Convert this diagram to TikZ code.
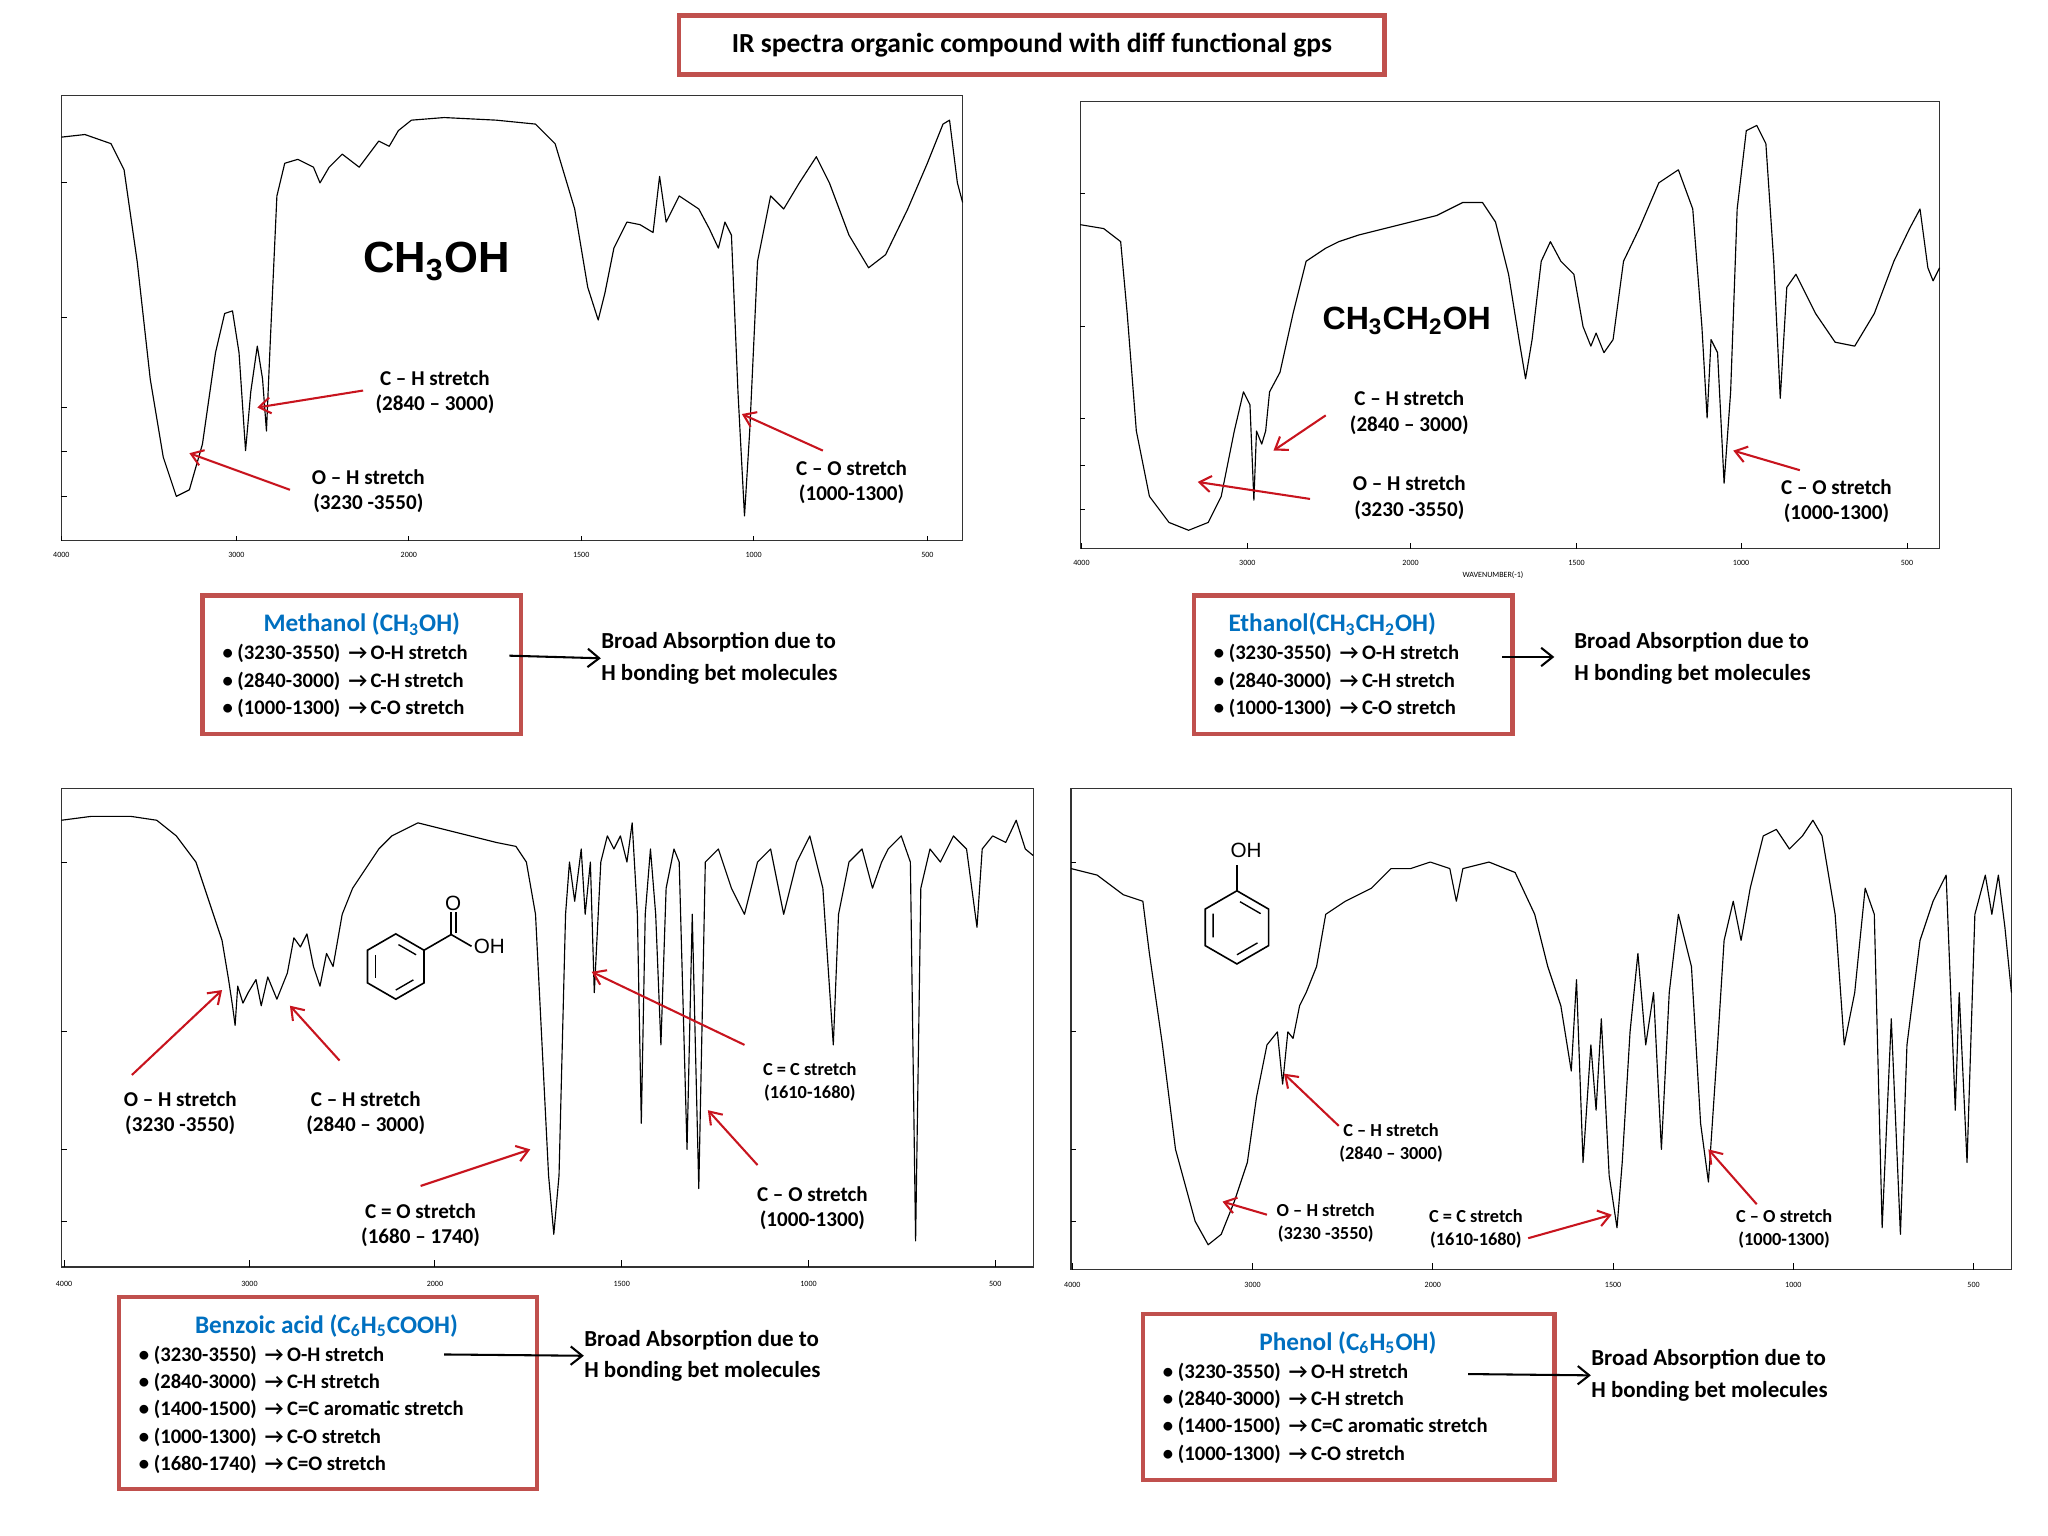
\documentclass[tikz,border=0pt]{standalone}
\usepackage{fontspec}
\setmainfont{Carlito}
\newfontfamily\arialf{Liberation Sans}
\usetikzlibrary{arrows.meta,calc}
\definecolor{bred}{RGB}{192,80,77}
\definecolor{ared}{RGB}{200,20,30}
\definecolor{tblue}{RGB}{0,112,192}
\newcommand{\sbs}[1]{\textsubscript{#1}}
\newcommand{\rar}{\,\textrightarrow\,}
\tikzset{
 frame/.style={draw=black!80,line width=0.5pt},
 spec/.style={draw=black,line width=0.5pt,line join=round},
 rbox/.style={draw=bred,line width=2pt},
 ann/.style={font=\fontsize{9.2}{11}\selectfont\bfseries,align=center,inner sep=0pt},
 anns/.style={font=\fontsize{8}{10}\selectfont\bfseries,align=center,inner sep=0pt},
 rarr/.style={draw=ared,line width=0.9pt,-{Straight Barb[length=5pt,width=7pt]}},
 barr/.style={draw=black,line width=0.9pt,-{Straight Barb[length=5pt,width=8pt]}},
 lst/.style={font=\fontsize{9}{11.9}\selectfont\bfseries,align=left,anchor=north west,inner sep=0pt},
 btxt/.style={font=\fontsize{10}{13.6}\selectfont\bfseries,align=left,anchor=west,inner sep=0pt},
 ttl/.style={font=\fontsize{11}{12}\selectfont\bfseries,text=tblue,inner sep=0pt},
 axl/.style={font=\fontsize{3.5}{4}\selectfont,inner sep=0pt},
}
\begin{document}
\begin{tikzpicture}[x=0.02cm,y=-0.02cm]
\useasboundingbox[fill=white] (0,0) rectangle (1568,1176);
\node[rbox,minimum width=540*0.02cm,minimum height=45*0.02cm,font=\fontsize{12}{13}\selectfont\bfseries] (title) at (790,34.5) {IR spectra organic compound with diff functional gps};
\draw[frame] (47,73) rectangle (737,414);
\draw[frame] (827,78) rectangle (1485,420);
\draw[frame] (47,604) rectangle (791,970);
\draw[frame] (820,604) rectangle (1540,972);
\foreach \x/\l in {47/4000,181/3000,313/2000,445/1500,577/1000,710/500}{\draw (\x,414)--(\x,410); \node[axl] at (\x,425){\l};}
\foreach \y in {140,243,312,346,380}{\draw (47,\y)--(51,\y);}
\foreach \x/\l in {828/4000,955/3000,1080/2000,1207/1500,1333/1000,1460/500}{\draw (\x,420)--(\x,416); \node[axl] at (\x,431){\l};}
\node[axl] at (1143,440){WAVENUMBER(-1)};
\foreach \y in {148,250,320,356,390}{\draw (827,\y)--(831,\y);}
\foreach \x/\l in {49/4000,191/3000,333/2000,476/1500,619/1000,762/500}{\draw (\x,970)--(\x,965); \node[axl] at (\x,983){\l};}
\foreach \y in {660,790,880,935}{\draw (47,\y)--(51,\y);}
\foreach \x/\l in {821/4000,959/3000,1097/2000,1235/1500,1373/1000,1511/500}{\draw (\x,972)--(\x,967); \node[axl] at (\x,984){\l};}
\foreach \y in {660,790,880,935}{\draw (820,\y)--(824,\y);}
\draw[spec] plot coordinates {(47,105)(65,103)(85,110)(95,130)(105,200)(115,290)(125,350)(135,380)(145,375)(155,340)(165,270)(172,240)(178,238)(183,270)(188,345)(192,300)(197,265)(201,290)(204,330)(207,260)(212,150)(218,125)(228,122)(240,128)(245,140)(252,128)(262,118)(275,128)(290,108)(298,112)(305,100)(315,92)(340,90)(380,92)(410,95)(425,110)(440,160)(450,220)(458,245)(463,225)(470,190)(480,170)(490,172)(500,178)(505,135)(510,170)(520,150)(535,160)(543,175)(550,190)(555,170)(560,180)(565,300)(570,395)(574,330)(580,200)(590,150)(600,160)(612,140)(625,120)(635,140)(650,180)(665,205)(678,195)(695,160)(710,125)(722,95)(727,92)(733,140)(737,155)};
\draw[spec] plot coordinates {(827,172)(845,175)(858,185)(863,240)(870,330)(880,380)(895,400)(910,406)(925,400)(935,380)(945,330)(952,300)(957,310)(960,383)(962,330)(966,340)(969,330)(972,300)(980,285)(990,240)(1000,200)(1015,190)(1025,185)(1040,180)(1060,175)(1080,170)(1100,165)(1120,155)(1135,155)(1145,170)(1155,210)(1163,260)(1168,290)(1173,260)(1180,200)(1187,185)(1195,200)(1205,210)(1212,250)(1218,265)(1222,255)(1228,270)(1235,260)(1243,200)(1255,175)(1270,140)(1285,130)(1296,160)(1303,250)(1307,320)(1310,260)(1315,270)(1320,370)(1325,300)(1330,160)(1337,100)(1345,96)(1352,110)(1358,200)(1363,305)(1368,220)(1375,210)(1390,240)(1405,262)(1420,265)(1435,240)(1450,200)(1462,175)(1470,160)(1476,205)(1480,215)(1485,205)};
\draw[spec] plot coordinates {(47,628)(70,625)(100,625)(120,628)(135,640)(150,660)(160,690)(170,720)(175,750)(178,770)(180,785)(182,755)(186,768)(190,760)(196,750)(200,770)(205,748)(212,765)(220,745)(225,718)(230,725)(235,715)(240,740)(245,755)(250,730)(255,740)(262,700)(270,680)(280,665)(290,650)(300,640)(310,635)(320,630)(340,635)(360,640)(380,645)(395,648)(403,660)(410,700)(415,800)(420,900)(424,945)(428,900)(433,700)(436,660)(440,690)(445,650)(448,700)(452,660)(455,760)(460,660)(465,640)(470,650)(475,640)(480,660)(484,630)(488,700)(491,860)(494,700)(498,650)(502,700)(506,800)(510,680)(516,650)(520,660)(526,880)(530,700)(535,910)(540,660)(550,650)(560,680)(570,700)(580,660)(590,650)(600,700)(610,660)(620,640)(630,680)(638,800)(642,700)(650,660)(660,650)(668,680)(675,660)(680,650)(690,640)(697,660)(701,950)(705,680)(712,650)(720,660)(730,640)(740,650)(748,710)(752,650)(760,640)(770,645)(778,628)(785,650)(791,655)};
\draw[spec] plot coordinates {(820,665)(840,670)(860,685)(875,690)(880,730)(890,800)(900,880)(915,935)(925,953)(935,945)(945,920)(955,890)(962,840)(970,800)(978,790)(982,830)(986,790)(990,795)(995,770)(1000,760)(1008,740)(1015,700)(1030,690)(1050,680)(1065,665)(1080,665)(1095,660)(1110,665)(1115,690)(1120,665)(1140,660)(1160,668)(1175,700)(1185,740)(1195,770)(1203,820)(1207,750)(1212,890)(1218,800)(1222,850)(1226,780)(1232,900)(1238,940)(1242,890)(1248,790)(1254,730)(1260,800)(1266,760)(1272,880)(1278,760)(1285,700)(1295,740)(1302,860)(1308,905)(1315,800)(1320,720)(1327,690)(1333,720)(1340,680)(1350,640)(1360,635)(1370,650)(1380,640)(1388,628)(1395,640)(1405,700)(1412,800)(1420,760)(1428,680)(1435,700)(1441,940)(1448,780)(1455,945)(1460,800)(1470,720)(1480,690)(1490,670)(1497,850)(1500,760)(1506,890)(1512,700)(1520,670)(1525,700)(1530,670)(1535,710)(1540,760)};
% formulas
\node[font=\fontsize{19}{22}\selectfont\bfseries\arialf] (f1) at (334,200) {CH\sbs{3}OH};
\node[font=\fontsize{14}{16}\selectfont\bfseries\arialf] (f2) at (1077,246) {CH\sbs{3}CH\sbs{2}OH};
% benzoic acid
\draw[line width=0.7pt] (303,740) ++(30:25) -- ++(150:25) -- ++(210:25) -- ++(270:25) -- ++(330:25) -- ++(30:25) -- cycle;
\draw[line width=0.7pt] (303,740) ++(-30:25) -- ++(-30:24) coordinate (cc) -- ++(30:18);
\draw[line width=0.7pt] (cc) -- ++(0,-17) (cc)++(3.5,-1) -- ++(0,-16);
\node[font=\fontsize{9}{10}\selectfont\arialf,inner sep=0pt] (bo) at ($(cc)+(1.5,-24)$) {O};
\node[font=\fontsize{9}{10}\selectfont\arialf,inner sep=0pt,anchor=west] (boh) at ($(cc)+(17,9)$) {OH};
\draw[line width=0.6pt] (303,740)++(90:18)--++(-30:15.6);
\draw[line width=0.6pt] (303,740)++(210:18)--++(90:18);
\draw[line width=0.6pt] (303,740)++(330:18)--++(210:15.6);
% phenol
\draw[line width=0.7pt] (947,710) ++(90:28) -- ++(-30:28) -- ++(-90:28) -- ++(-150:28) -- ++(150:28) -- ++(90:28) -- cycle;
\draw[line width=0.7pt] (947,682) -- (947,662);
\node[font=\fontsize{9}{10}\selectfont\arialf,inner sep=0pt] (poh) at (954,651) {OH};
\draw[line width=0.6pt] (947,710)++(90:21)--++(-30:18.2) (947,710)++(210:21)--++(90:18.2) (947,710)++(330:21)--++(210:18.2);
% annotations TL
\node[ann] (a1) at (333,300) {C -- H stretch\\(2840 -- 3000)};
\node[ann] (a2) at (282,376) {O -- H stretch\\(3230 -3550)};
\node[ann] (a3) at (652,369) {C -- O stretch\\(1000-1300)};
\coordinate (t1) at (197,312); \coordinate (t2) at (145,347); \coordinate (t3) at (568,317);
\draw[rarr] (278,299) -- (t1);
\draw[rarr] (222,375) -- (t2);
\draw[rarr] (630,345) -- (t3);
% TR
\node[ann] (b1) at (1079,316) {C -- H stretch\\(2840 -- 3000)};
\node[ann] (b2) at (1079,381) {O -- H stretch\\(3230 -3550)};
\node[ann] (b3) at (1406,384) {C -- O stretch\\(1000-1300)};
\coordinate (u1) at (975,345); \coordinate (u2) at (917,369); \coordinate (u3) at (1327,345);
\draw[rarr] (1015,318) -- (u1);
\draw[rarr] (1003,382) -- (u2);
\draw[rarr] (1378,360) -- (u3);
% BL
\node[ann] (c1) at (138,852) {O -- H stretch\\(3230 -3550)};
\node[ann] (c2) at (280,852) {C -- H stretch\\(2840 -- 3000)};
\node[anns] (c3) at (620,828) {C = C stretch\\(1610-1680)};
\node[ann] (c4) at (622,925) {C -- O stretch\\(1000-1300)};
\node[ann] (c5) at (322,938) {C = O stretch\\(1680 -- 1740)};
\coordinate (v1) at (170,758); \coordinate (v2) at (222,770); \coordinate (v3) at (453,744); \coordinate (v4) at (542,850); \coordinate (v5) at (406,880);
\draw[rarr] (101,823) -- (v1);
\draw[rarr] (260,812) -- (v2);
\draw[rarr] (570,800) -- (v3);
\draw[rarr] (580,892) -- (v4);
\draw[rarr] (322,908) -- (v5);
% BR
\node[anns] (d1) at (1065,875) {C -- H stretch\\(2840 -- 3000)};
\node[anns] (d2) at (1015,936) {O -- H stretch\\(3230 -3550)};
\node[anns] (d3) at (1130,941) {C = C stretch\\(1610-1680)};
\node[anns] (d4) at (1366,941) {C -- O stretch\\(1000-1300)};
\coordinate (w1) at (983,822); \coordinate (w2) at (936,920); \coordinate (w3) at (1234,930); \coordinate (w4) at (1308,880);
\draw[rarr] (1025,862) -- (w1);
\draw[rarr] (970,930) -- (w2);
\draw[rarr] (1170,948) -- (w3);
\draw[rarr] (1345,922) -- (w4);
% boxes
\draw[rbox] (155,456) rectangle (399,562);
\node[ttl] (m1) at (277,478) {Methanol (CH\sbs{3}OH)};
\node[lst] (l1) at (170,493) {• (3230-3550) \rar O-H stretch\\• (2840-3000) \rar C-H stretch\\• (1000-1300) \rar C-O stretch};
\node[btxt] (e1) at (460,504) {Broad Absorption due to\\H bonding bet molecules};
\draw[barr] (390,502) -- (e1.west);

\draw[rbox] (914,456) rectangle (1158,562);
\node[ttl] (m2) at (1020,478) {Ethanol(CH\sbs{3}CH\sbs{2}OH)};
\node[lst] (l2) at (929,493) {• (3230-3550) \rar O-H stretch\\• (2840-3000) \rar C-H stretch\\• (1000-1300) \rar C-O stretch};
\node[btxt] (e2) at (1205,504) {Broad Absorption due to\\H bonding bet molecules};
\draw[barr] (1150,503) -- (1190,503);

\draw[rbox] (91,993) rectangle (411,1140);
\node[ttl] (m3) at (250,1015) {Benzoic acid (C\sbs{6}H\sbs{5}COOH)};
\node[lst] (l3) at (106,1030) {• (3230-3550) \rar O-H stretch\\• (2840-3000) \rar C-H stretch\\• (1400-1500) \rar C=C aromatic stretch\\• (1000-1300) \rar C-O stretch\\• (1680-1740) \rar C=O stretch};
\node[btxt] (e3) at (447,1038) {Broad Absorption due to\\H bonding bet molecules};
\draw[barr] (340,1037) -- (e3.west);

\draw[rbox] (875,1006) rectangle (1190,1133);
\node[ttl] (m4) at (1032,1028) {Phenol (C\sbs{6}H\sbs{5}OH)};
\node[lst] (l4) at (890,1043) {• (3230-3550) \rar O-H stretch\\• (2840-3000) \rar C-H stretch\\• (1400-1500) \rar C=C aromatic stretch\\• (1000-1300) \rar C-O stretch};
\node[btxt] (e4) at (1218,1053) {Broad Absorption due to\\H bonding bet molecules};
\draw[barr] (1124,1052) -- (e4.west);
\end{tikzpicture}
\end{document}
